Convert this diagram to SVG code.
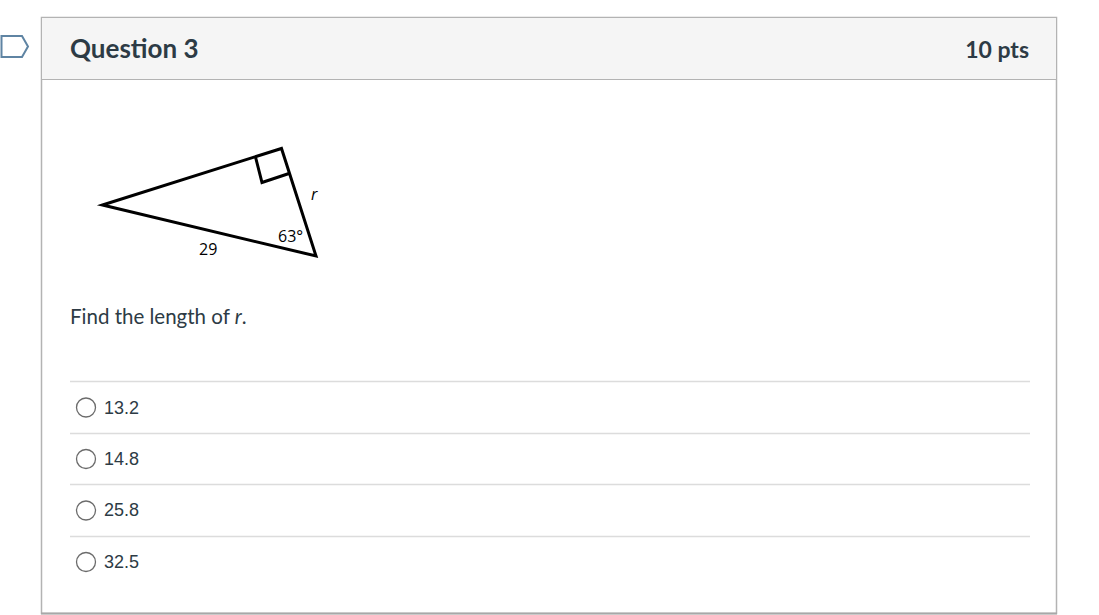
<svg xmlns="http://www.w3.org/2000/svg" width="1099" height="615" viewBox="0 0 1099 615">
<style>
.hdr{font-family:Lato,"Liberation Sans",sans-serif;font-weight:bold;font-size:26px;fill:#2d3b45}
.pts{font-family:Lato,"Liberation Sans",sans-serif;font-weight:bold;font-size:23px;fill:#2d3b45}
.q{font-family:Lato,"Liberation Sans",sans-serif;font-size:20.5px;fill:#2d3b45}
.opt{font-family:"Liberation Sans",Arial,sans-serif;font-size:18px;fill:#2d3b45}
.sep{stroke:#dcdcdc;stroke-width:1.5}
.radio{fill:#fff;stroke:#6b6b6b;stroke-width:1.3}
.tri{fill:none;stroke:#000;stroke-width:3;stroke-linejoin:miter}
.lbl{font-family:"Open Sans","Liberation Sans",sans-serif;font-size:16px;fill:#000}
</style>
<rect width="1099" height="615" fill="#fff"/>
<g id="bookmark">
<path d="M1.5,36 H22 L28,46.5 L22,57 H1.5 Z" fill="#fff" stroke="#5f84a3" stroke-width="2"/>
</g>
<g id="panel">
<rect x="41.5" y="17.5" width="1015" height="596" fill="#fff" stroke="#b3b3b3" stroke-width="1.5"/>
<rect x="42" y="18" width="1014" height="61" fill="#f5f5f5"/>
<line x1="41.5" y1="79.5" x2="1056.5" y2="79.5" stroke="#b3b3b3" stroke-width="1.2"/>
<line x1="41" y1="613.5" x2="1057" y2="613.5" stroke="#a8a8a8" stroke-width="2"/>
<text class="hdr" x="70" y="58">Question 3</text>
<text class="pts" x="1029" y="58" text-anchor="end">10 pts</text>
</g>
<g id="triangle">
<path class="tri" d="M102.5,205 L281.5,148.5 L316,256 Z"/>
<path d="M255.5,157 L262,182.5 L289,173.5" fill="none" stroke="#000" stroke-width="3"/>
<text class="lbl" x="311" y="200" font-style="italic" font-size="17px">r</text>
<text class="lbl" x="278" y="242" font-size="14px">63°</text>
<text class="lbl" x="199" y="255">29</text>
</g>
<g id="question">
<text class="q" x="70" y="324">Find the length of <tspan font-style="italic">r</tspan>.</text>
</g>
<g id="options">
<line class="sep" x1="70" y1="381.5" x2="1030" y2="381.5"/>
<circle class="radio" cx="86" cy="407.5" r="9.5"/>
<text class="opt" x="104" y="413.5">13.2</text>
<line class="sep" x1="70" y1="433.5" x2="1030" y2="433.5"/>
<circle class="radio" cx="86" cy="459" r="9.5"/>
<text class="opt" x="104" y="464.5">14.8</text>
<line class="sep" x1="70" y1="484.5" x2="1030" y2="484.5"/>
<circle class="radio" cx="86" cy="510.5" r="9.5"/>
<text class="opt" x="104" y="516">25.8</text>
<line class="sep" x1="70" y1="536.5" x2="1030" y2="536.5"/>
<circle class="radio" cx="86" cy="562" r="9.5"/>
<text class="opt" x="104" y="567.5">32.5</text>
</g>
</svg>
